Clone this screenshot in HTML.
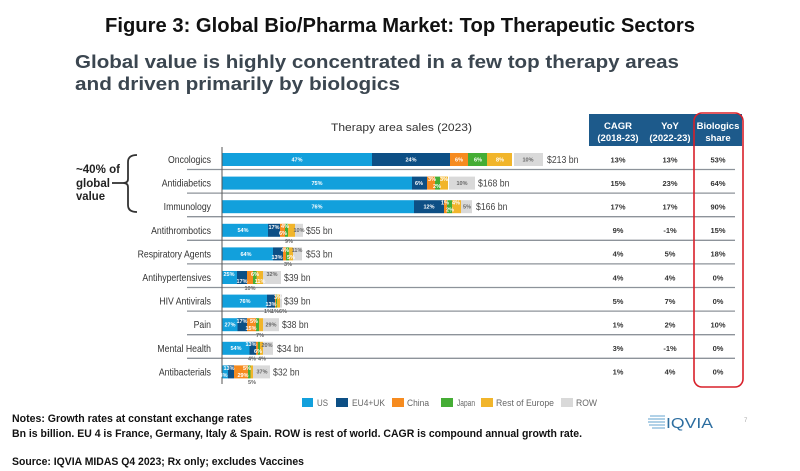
<!DOCTYPE html>
<html><head><meta charset="utf-8"><style>
html,body{margin:0;padding:0;background:#fff;}
svg{display:block;}
text{font-family:"Liberation Sans",Arial,sans-serif;}
</style></head><body>
<svg width="800" height="471" viewBox="0 0 800 471" xmlns="http://www.w3.org/2000/svg">
<rect width="800" height="471" fill="#fff"/>
<!-- Titles -->
<text x="105" y="32" font-size="20" font-weight="bold" fill="#111" textLength="590" lengthAdjust="spacingAndGlyphs">Figure 3: Global Bio/Pharma Market: Top Therapeutic Sectors</text>
<text x="75" y="68" font-size="18" font-weight="bold" fill="#3b4650" textLength="604" lengthAdjust="spacingAndGlyphs">Global value is highly concentrated in a few top therapy areas</text>
<text x="75" y="90" font-size="18" font-weight="bold" fill="#3b4650" textLength="325" lengthAdjust="spacingAndGlyphs">and driven primarily by biologics</text>
<text x="331" y="131" font-size="11" fill="#333" textLength="141" lengthAdjust="spacingAndGlyphs">Therapy area sales (2023)</text>

<!-- Table header -->
<rect x="589" y="114" width="153" height="32" fill="#1d5a8b"/>
<g font-size="9.5" font-weight="bold" fill="#fff" text-anchor="middle">
<text x="618" y="129">CAGR</text><text x="618" y="141">(2018-23)</text>
<text x="670" y="129">YoY</text><text x="670" y="141">(2022-23)</text>
<text x="718" y="129">Biologics</text><text x="718" y="141">share</text>
</g>

<!-- row separator lines -->
<g stroke="#8d939a" stroke-width="1.3">
<line x1="187" y1="169.5" x2="735" y2="169.5"/>
<line x1="187" y1="193.1" x2="735" y2="193.1"/>
<line x1="187" y1="216.7" x2="735" y2="216.7"/>
<line x1="187" y1="240.3" x2="735" y2="240.3"/>
<line x1="187" y1="263.9" x2="735" y2="263.9"/>
<line x1="187" y1="287.5" x2="735" y2="287.5"/>
<line x1="187" y1="311.1" x2="735" y2="311.1"/>
<line x1="187" y1="334.7" x2="735" y2="334.7"/>
<line x1="187" y1="358.3" x2="735" y2="358.3"/>
</g>

<!-- Category labels -->
<g font-size="10" fill="#333" text-anchor="end">
<text transform="translate(211,163) scale(0.87,1)">Oncologics</text>
<text transform="translate(211,186.6) scale(0.87,1)">Antidiabetics</text>
<text transform="translate(211,210.2) scale(0.87,1)">Immunology</text>
<text transform="translate(211,233.8) scale(0.87,1)">Antithrombotics</text>
<text transform="translate(211,257.4) scale(0.87,1)">Respiratory Agents</text>
<text transform="translate(211,281) scale(0.87,1)">Antihypertensives</text>
<text transform="translate(211,304.6) scale(0.87,1)">HIV Antivirals</text>
<text transform="translate(211,328.2) scale(0.87,1)">Pain</text>
<text transform="translate(211,351.8) scale(0.87,1)">Mental Health</text>
<text transform="translate(211,375.4) scale(0.87,1)">Antibacterials</text>
</g>

<!-- Bracket -->
<g font-size="12" font-weight="bold" fill="#222">
<text x="76" y="173" textLength="44" lengthAdjust="spacingAndGlyphs">~40% of</text>
<text x="76" y="187" textLength="34" lengthAdjust="spacingAndGlyphs">global</text>
<text x="76" y="200" textLength="29" lengthAdjust="spacingAndGlyphs">value</text>
</g>
<path d="M137,155 Q128,155 128,162 L128,179 Q128,183 123,183 Q128,183 128,187 L128,205 Q128,212 137,212" fill="none" stroke="#333" stroke-width="1.8"/>
<line x1="112" y1="183" x2="123" y2="183" stroke="#333" stroke-width="1.8"/>

<!-- Bars -->
<g>
<!-- row0 -->
<rect x="222" y="153" width="150" height="13" fill="#12a0dc"/>
<rect x="372" y="153" width="78" height="13" fill="#0d4f85"/>
<rect x="450" y="153" width="18" height="13" fill="#f68b1f"/>
<rect x="468" y="153" width="19" height="13" fill="#45ad35"/>
<rect x="487" y="153" width="25" height="13" fill="#f1b52b"/>
<rect x="514" y="153" width="29" height="13" fill="#d9d9d9"/>
<!-- row1 -->
<rect x="222" y="176.6" width="190" height="13" fill="#12a0dc"/>
<rect x="412" y="176.6" width="15" height="13" fill="#0d4f85"/>
<rect x="427" y="176.6" width="8" height="13" fill="#f68b1f"/>
<rect x="435" y="176.6" width="5" height="13" fill="#45ad35"/>
<rect x="440" y="176.6" width="8" height="13" fill="#f1b52b"/>
<rect x="449" y="176.6" width="26" height="13" fill="#d9d9d9"/>
<!-- row2 -->
<rect x="222" y="200.2" width="192" height="13" fill="#12a0dc"/>
<rect x="414" y="200.2" width="30" height="13" fill="#0d4f85"/>
<rect x="444" y="200.2" width="3" height="13" fill="#f68b1f"/>
<rect x="447" y="200.2" width="5" height="13" fill="#45ad35"/>
<rect x="452" y="200.2" width="9" height="13" fill="#f1b52b"/>
<rect x="461" y="200.2" width="11" height="13" fill="#d9d9d9"/>
<!-- row3 -->
<rect x="222" y="223.8" width="46" height="13" fill="#12a0dc"/>
<rect x="268" y="223.8" width="12" height="13" fill="#0d4f85"/>
<rect x="280" y="223.8" width="5" height="13" fill="#f68b1f"/>
<rect x="285" y="223.8" width="3" height="13" fill="#45ad35"/>
<rect x="288" y="223.8" width="7" height="13" fill="#f1b52b"/>
<rect x="295" y="223.8" width="8" height="13" fill="#d9d9d9"/>
<!-- row4 -->
<rect x="222" y="247.4" width="51" height="13" fill="#12a0dc"/>
<rect x="273" y="247.4" width="10" height="13" fill="#0d4f85"/>
<rect x="283" y="247.4" width="3" height="13" fill="#f68b1f"/>
<rect x="286" y="247.4" width="3" height="13" fill="#45ad35"/>
<rect x="289" y="247.4" width="4" height="13" fill="#f1b52b"/>
<rect x="293" y="247.4" width="9" height="13" fill="#d9d9d9"/>
<!-- row5 -->
<rect x="222" y="271" width="15" height="13" fill="#12a0dc"/>
<rect x="237" y="271" width="10" height="13" fill="#0d4f85"/>
<rect x="247" y="271" width="6" height="13" fill="#f68b1f"/>
<rect x="253" y="271" width="3.5" height="13" fill="#45ad35"/>
<rect x="256.5" y="271" width="6.5" height="13" fill="#f1b52b"/>
<rect x="263" y="271" width="18" height="13" fill="#d9d9d9"/>
<!-- row6 -->
<rect x="222" y="294.6" width="45" height="13" fill="#12a0dc"/>
<rect x="267" y="294.6" width="8" height="13" fill="#0d4f85"/>
<rect x="275" y="294.6" width="1" height="13" fill="#f68b1f"/>
<rect x="276" y="294.6" width="1" height="13" fill="#45ad35"/>
<rect x="277" y="294.6" width="3" height="13" fill="#f1b52b"/>
<rect x="280" y="294.6" width="2" height="13" fill="#d9d9d9"/>
<!-- row7 -->
<rect x="222" y="318.2" width="15.5" height="13" fill="#12a0dc"/>
<rect x="237.5" y="318.2" width="9.5" height="13" fill="#0d4f85"/>
<rect x="247" y="318.2" width="9" height="13" fill="#f68b1f"/>
<rect x="256" y="318.2" width="3" height="13" fill="#45ad35"/>
<rect x="259" y="318.2" width="4" height="13" fill="#f1b52b"/>
<rect x="263" y="318.2" width="16" height="13" fill="#d9d9d9"/>
<!-- row8 -->
<rect x="222" y="341.8" width="27.5" height="13" fill="#12a0dc"/>
<rect x="249.5" y="341.8" width="6.5" height="13" fill="#0d4f85"/>
<rect x="256" y="341.8" width="2" height="13" fill="#f68b1f"/>
<rect x="258" y="341.8" width="2" height="13" fill="#45ad35"/>
<rect x="260" y="341.8" width="3" height="13" fill="#f1b52b"/>
<rect x="263" y="341.8" width="10" height="13" fill="#d9d9d9"/>
<!-- row9 -->
<rect x="222" y="365.4" width="6" height="13" fill="#12a0dc"/>
<rect x="228" y="365.4" width="6" height="13" fill="#0d4f85"/>
<rect x="234" y="365.4" width="14" height="13" fill="#f68b1f"/>
<rect x="248" y="365.4" width="2.5" height="13" fill="#45ad35"/>
<rect x="250.5" y="365.4" width="2.5" height="13" fill="#f1b52b"/>
<rect x="253" y="365.4" width="17" height="13" fill="#d9d9d9"/>
</g>

<!-- axis -->
<line x1="222" y1="147" x2="222" y2="384" stroke="#555" stroke-width="1"/>

<!-- in-bar labels -->
<g font-size="5.5" font-weight="bold" fill="#fff" text-anchor="middle">
<text x="297" y="161.5">47%</text><text x="411" y="161.5">24%</text><text x="459" y="161.5">6%</text><text x="478" y="161.5">6%</text><text x="500" y="161.5">8%</text>
<text x="317" y="185">75%</text><text x="419" y="185">6%</text>
<text x="317" y="208.6">76%</text><text x="429" y="208.6">12%</text>
<text x="243" y="232.2">54%</text><text x="274" y="229">17%</text>
<text x="246" y="255.8">64%</text><text x="277" y="259">13%</text>
<text x="229" y="276">25%</text><text x="242" y="283">17%</text><text x="255" y="276">6%</text><text x="260" y="283">11%</text>
<text x="245" y="303">76%</text><text x="271" y="306">13%</text><text x="278" y="299">3%</text>
<text x="230" y="326.6">27%</text><text x="242" y="323">17%</text><text x="254" y="323">5%</text><text x="251" y="330">15%</text>
<text x="236" y="350.2">54%</text><text x="251" y="346">13%</text><text x="258" y="353">6%</text>
<text x="229" y="370">13%</text><text x="222" y="377">13%</text><text x="243" y="377">29%</text><text x="247" y="370">5%</text>
<text x="432" y="181">3%</text><text x="437" y="188">2%</text><text x="444" y="181">3%</text>
<text x="445" y="204.5">1%</text><text x="450" y="211.5">2%</text><text x="456" y="204.5">4%</text>
<text x="283" y="235">6%</text><text x="285" y="228">4%</text>
<text x="285" y="252">4%</text><text x="291" y="259">5%</text>
</g>
<g font-size="5.5" font-weight="bold" fill="#666" text-anchor="middle">
<text x="528" y="161.5">10%</text><text x="462" y="185">10%</text><text x="467" y="208.6">5%</text>
<text x="299" y="232.2">10%</text><text x="289" y="243">9%</text>
<text x="297" y="252">11%</text><text x="288" y="266">3%</text>
<text x="272" y="276">32%</text><text x="250" y="290">10%</text>
<text x="268" y="313">1%</text><text x="275" y="313">1%</text><text x="283" y="313">6%</text>
<text x="260" y="337">7%</text><text x="271" y="326.6">29%</text>
<text x="252" y="360.5">4%</text><text x="262" y="360.5">4%</text><text x="267" y="347">20%</text>
<text x="252" y="384">5%</text><text x="262" y="373.5">37%</text>
</g>

<!-- value labels -->
<g font-size="10" fill="#444">
<text transform="translate(547,163) scale(0.87,1)">$213 bn</text>
<text transform="translate(478,186.6) scale(0.87,1)">$168 bn</text>
<text transform="translate(476,210.2) scale(0.87,1)">$166 bn</text>
<text transform="translate(306,233.8) scale(0.87,1)">$55 bn</text>
<text transform="translate(306,257.4) scale(0.87,1)">$53 bn</text>
<text transform="translate(284,281) scale(0.87,1)">$39 bn</text>
<text transform="translate(284,304.6) scale(0.87,1)">$39 bn</text>
<text transform="translate(282,328.2) scale(0.87,1)">$38 bn</text>
<text transform="translate(277,351.8) scale(0.87,1)">$34 bn</text>
<text transform="translate(273,375.4) scale(0.87,1)">$32 bn</text>
</g>

<!-- Table values -->
<g font-size="7.5" font-weight="bold" fill="#333" text-anchor="middle">
<text x="618" y="162.3">13%</text><text x="670" y="162.3">13%</text><text x="718" y="162.3">53%</text>
<text x="618" y="185.9">15%</text><text x="670" y="185.9">23%</text><text x="718" y="185.9">64%</text>
<text x="618" y="209.5">17%</text><text x="670" y="209.5">17%</text><text x="718" y="209.5">90%</text>
<text x="618" y="233.1">9%</text><text x="670" y="233.1">-1%</text><text x="718" y="233.1">15%</text>
<text x="618" y="256.7">4%</text><text x="670" y="256.7">5%</text><text x="718" y="256.7">18%</text>
<text x="618" y="280.3">4%</text><text x="670" y="280.3">4%</text><text x="718" y="280.3">0%</text>
<text x="618" y="303.9">5%</text><text x="670" y="303.9">7%</text><text x="718" y="303.9">0%</text>
<text x="618" y="327.5">1%</text><text x="670" y="327.5">2%</text><text x="718" y="327.5">10%</text>
<text x="618" y="351.1">3%</text><text x="670" y="351.1">-1%</text><text x="718" y="351.1">0%</text>
<text x="618" y="374.7">1%</text><text x="670" y="374.7">4%</text><text x="718" y="374.7">0%</text>
</g>

<!-- red highlight -->
<rect x="694" y="113" width="49" height="274" rx="8" ry="8" fill="none" stroke="#d8202a" stroke-width="1.6"/>

<!-- Legend -->
<g font-size="9.5" fill="#666">
<rect x="302" y="398" width="11" height="9" fill="#12a0dc"/><text x="317" y="406" textLength="11" lengthAdjust="spacingAndGlyphs">US</text>
<rect x="336" y="398" width="12" height="9" fill="#0d4f85"/><text x="352" y="406" textLength="33" lengthAdjust="spacingAndGlyphs">EU4+UK</text>
<rect x="392" y="398" width="12" height="9" fill="#f68b1f"/><text x="407" y="406" textLength="22" lengthAdjust="spacingAndGlyphs">China</text>
<rect x="441" y="398" width="12" height="9" fill="#45ad35"/><text x="457" y="406" textLength="18" lengthAdjust="spacingAndGlyphs">Japan</text>
<rect x="481" y="398" width="12" height="9" fill="#f1b52b"/><text x="496" y="406" textLength="58" lengthAdjust="spacingAndGlyphs">Rest of Europe</text>
<rect x="561" y="398" width="12" height="9" fill="#d9d9d9"/><text x="576" y="406" textLength="21" lengthAdjust="spacingAndGlyphs">ROW</text>
</g>

<!-- Notes -->
<g font-size="11" font-weight="bold" fill="#111">
<text x="12" y="422" textLength="240" lengthAdjust="spacingAndGlyphs">Notes: Growth rates at constant exchange rates</text>
<text x="12" y="437" textLength="570" lengthAdjust="spacingAndGlyphs">Bn is billion. EU 4 is France, Germany, Italy &amp; Spain. ROW is rest of world. CAGR is compound annual growth rate.</text>
<text x="12" y="465" textLength="292" lengthAdjust="spacingAndGlyphs">Source: IQVIA MIDAS Q4 2023; Rx only; excludes Vaccines</text>
</g>

<!-- IQVIA logo -->
<g stroke="#7fb3d8" stroke-width="1.2">
<line x1="650" y1="416" x2="665" y2="416"/>
<line x1="648" y1="419" x2="665" y2="419"/>
<line x1="648" y1="422" x2="665" y2="422"/>
<line x1="649" y1="425" x2="665" y2="425"/>
<line x1="652" y1="428" x2="665" y2="428"/>
</g>
<text x="666" y="428" font-size="15" fill="#2d6ea0" textLength="47" lengthAdjust="spacingAndGlyphs">IQVIA</text>
<text x="744" y="422" font-size="6" fill="#aaa">7</text>
</svg>
</body></html>
